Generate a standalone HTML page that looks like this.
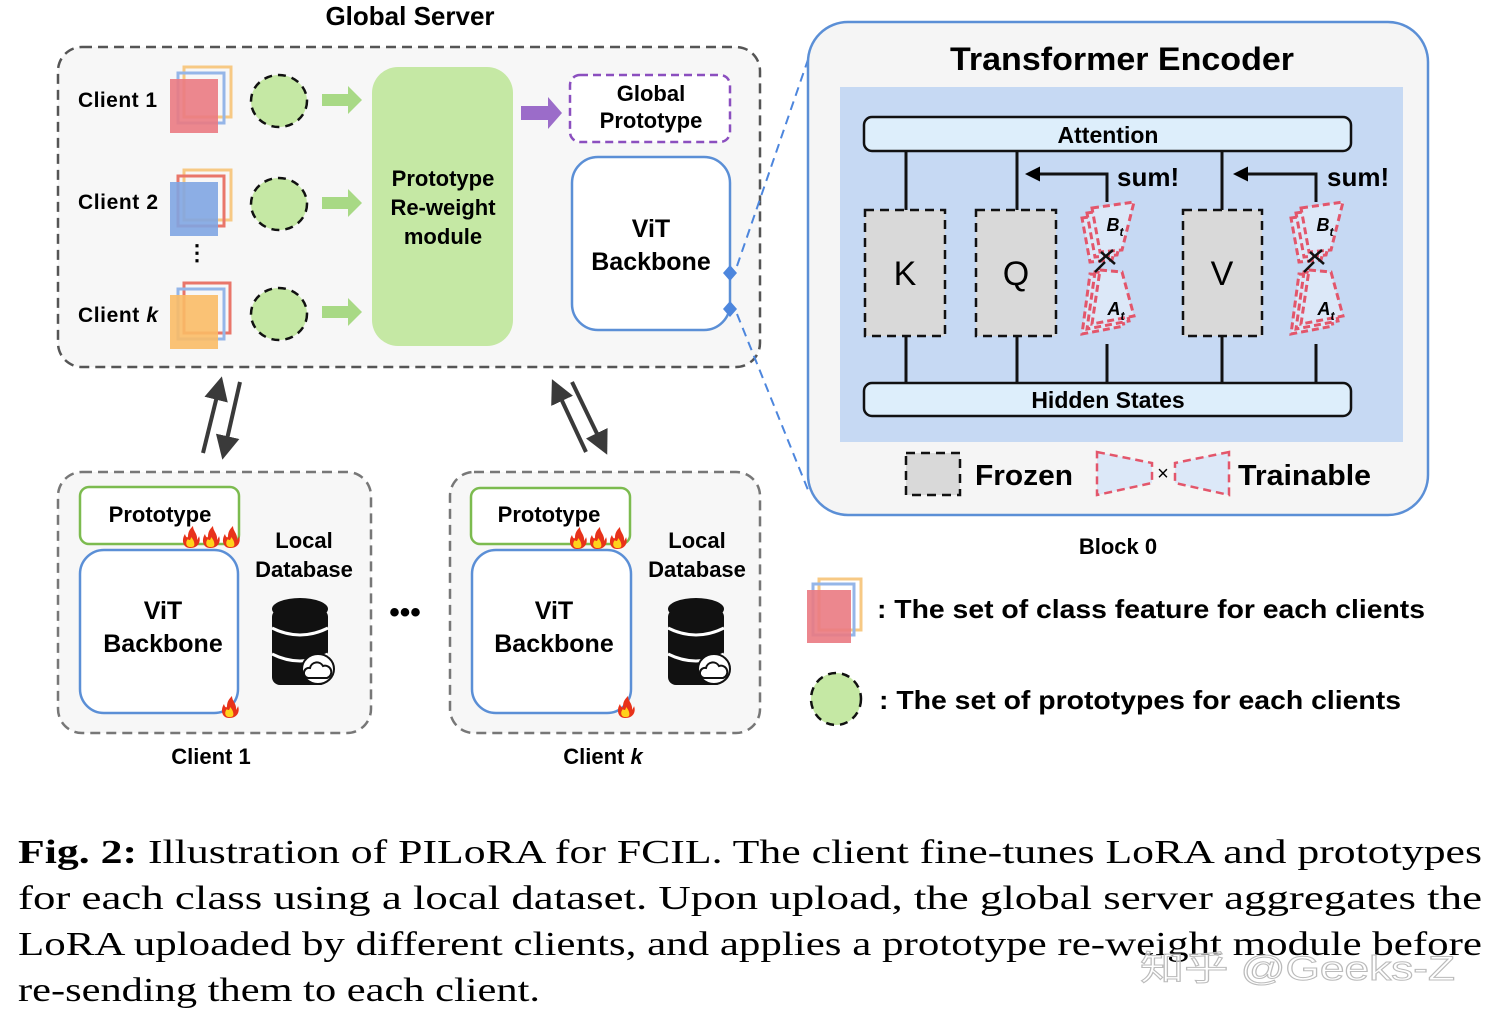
<!DOCTYPE html>
<html><head><meta charset="utf-8"><style>
html,body{margin:0;padding:0;background:#fff}
svg{display:block}
.b{font-family:"Liberation Sans",sans-serif;font-weight:bold}
.s{font-family:"Liberation Serif",serif;font-size:34px}
</style></head><body>
<svg width="1492" height="1023" viewBox="0 0 1492 1023" xmlns="http://www.w3.org/2000/svg">
<defs>
<marker id="ah" markerWidth="6" markerHeight="6" refX="3" refY="3" orient="auto" markerUnits="strokeWidth"><path d="M0,0 L6,3 L0,6 Z" fill="#3a3a3a"/></marker>
<marker id="ak" markerWidth="5" markerHeight="5" refX="4" refY="2.5" orient="auto" markerUnits="strokeWidth"><path d="M0,0 L5,2.5 L0,5 Z" fill="#000"/></marker>
<g id="flame"><path d="M0,0 C-7,0 -9,-8 -5,-14 C-4,-10 -2,-10 -2,-12 C-2,-17 1,-20 3,-22 C3,-17 8,-14 7,-8 C8,-10 9,-11 9,-12 C11,-7 9,0 0,0 Z" fill="#e8321a"/><path d="M0,-1 C-4,-1 -5,-6 -2,-9 C-1,-7 1,-8 1,-11 C4,-8 5,-4 4,-2 C3,-1 2,-1 0,-1 Z" fill="#ffd21c"/></g>
<g id="lora" stroke="#e3566b" stroke-width="3" stroke-dasharray="7,4" fill="#dce8f8">
<path d="M-30,16 L12,10 L0,58 L-22,60 Z"/><path d="M-25,11 L17,5 L5,53 L-17,55 Z"/><path d="M-20,6 L22,0 L10,48 L-12,50 Z"/>
<path d="M-22,72 L0,74 L12,124 L-30,132 Z"/><path d="M-17,70 L5,72 L17,119 L-25,127 Z"/><path d="M-12,68 L10,70 L22,114 L-20,122 Z"/>
</g>
</defs>

<text x="410" y="25" text-anchor="middle" class="b" font-size="26">Global Server</text>
<rect x="58" y="47" width="702" height="320" rx="24" fill="#f7f7f7" stroke="#555" stroke-width="2.5" stroke-dasharray="10,6"/>

<g class="b" font-size="21">
<text x="78" y="107" textLength="79">Client 1</text><text x="78" y="209" textLength="80">Client 2</text><text x="78" y="322" textLength="80">Client <tspan font-style="italic">k</tspan></text>
</g>
<text x="197" y="260" text-anchor="middle" class="b" font-size="22">⋮</text>

<g transform="translate(170,66)"><rect x="14" y="1" width="47" height="50" fill="none" stroke="#f7c984" stroke-width="3"/><rect x="8" y="7" width="46" height="50" fill="none" stroke="#95b6e8" stroke-width="3"/><rect x="0" y="13" width="48" height="54" fill="#ea7a82" opacity="0.9"/></g>
<g transform="translate(170,169)"><rect x="14" y="1" width="47" height="50" fill="none" stroke="#f7c984" stroke-width="3"/><rect x="8" y="7" width="46" height="50" fill="none" stroke="#e9766a" stroke-width="3"/><rect x="0" y="13" width="48" height="54" fill="#7fa5e2" opacity="0.9"/></g>
<g transform="translate(170,282)"><rect x="14" y="1" width="46" height="50" fill="none" stroke="#e9766a" stroke-width="3"/><rect x="8" y="7" width="46" height="50" fill="none" stroke="#95b6e8" stroke-width="3"/><rect x="0" y="13" width="48" height="54" fill="#fabb66" opacity="0.9"/></g>

<g fill="#c5e8a4" stroke="#111" stroke-width="2.5" stroke-dasharray="8,6">
<ellipse cx="279" cy="101" rx="28" ry="26"/><ellipse cx="279" cy="204" rx="28" ry="26"/><ellipse cx="279" cy="314" rx="28" ry="26"/>
</g>
<g fill="#a8d985">
<path d="M322,94 h26 v-8 l14,14 l-14,14 v-8 h-26 Z"/><path d="M322,197 h26 v-8 l14,14 l-14,14 v-8 h-26 Z"/><path d="M322,306 h26 v-8 l14,14 l-14,14 v-8 h-26 Z"/>
</g>
<rect x="372" y="67" width="141" height="279" rx="26" fill="#c5e8a4"/>
<g class="b" font-size="22" text-anchor="middle"><text x="443" y="186">Prototype</text><text x="443" y="215">Re-weight</text><text x="443" y="244">module</text></g>
<path d="M521,106 h27 v-9 l14,16 l-14,16 v-9 h-27 Z" fill="#9b6cc9"/>
<rect x="570" y="75" width="160" height="67" rx="10" fill="#fff" stroke="#8b4fbf" stroke-width="2.5" stroke-dasharray="8,5"/>
<g class="b" font-size="22" text-anchor="middle"><text x="651" y="101">Global</text><text x="651" y="128">Prototype</text></g>
<rect x="572" y="157" width="158" height="173" rx="26" fill="#fff" stroke="#5b8fd6" stroke-width="2.5"/>
<g class="b" font-size="25" text-anchor="middle"><text x="651" y="237">ViT</text><text x="651" y="270">Backbone</text></g>
<path d="M730,265 l7,8 l-7,8 l-7,-8 Z M730,301 l7,8 l-7,8 l-7,-8 Z" fill="#4d86dd"/>
<g stroke="#4d86dd" stroke-width="2" stroke-dasharray="9,6" fill="none"><path d="M737,266 L812,48"/><path d="M737,314 L808,490"/></g>

<rect x="808" y="22" width="620" height="493" rx="40" fill="#f5f5f5" stroke="#5b8fd6" stroke-width="2.5"/>
<text x="1122" y="70" text-anchor="middle" class="b" font-size="32" textLength="344" lengthAdjust="spacingAndGlyphs">Transformer Encoder</text>
<rect x="840" y="87" width="563" height="355" fill="#c6d9f3"/>
<g stroke="#111" stroke-width="3">
<line x1="906" y1="151" x2="906" y2="210"/><line x1="1017" y1="151" x2="1017" y2="210"/><line x1="1222" y1="151" x2="1222" y2="210"/>
<line x1="906" y1="336" x2="906" y2="383"/><line x1="1017" y1="336" x2="1017" y2="383"/><line x1="1222" y1="336" x2="1222" y2="383"/>
<line x1="1107" y1="344" x2="1107" y2="383"/><line x1="1316" y1="344" x2="1316" y2="383"/>
<polyline points="1107,202 1107,174 1028,174" fill="none" marker-end="url(#ak)"/>
<polyline points="1316,202 1316,174 1236,174" fill="none" marker-end="url(#ak)"/>
</g>
<rect x="864" y="117" width="487" height="34" rx="8" fill="#ddeefb" stroke="#111" stroke-width="2.5"/>
<rect x="864" y="383" width="487" height="33" rx="8" fill="#ddeefb" stroke="#111" stroke-width="2.5"/>
<g class="b" font-size="23" text-anchor="middle"><text x="1108" y="143">Attention</text><text x="1108" y="408">Hidden States</text></g>
<g class="b" font-size="26"><text x="1117" y="186">sum!</text><text x="1327" y="186">sum!</text></g>
<g fill="#d9d9d9" stroke="#111" stroke-width="2.5" stroke-dasharray="9,6">
<rect x="865" y="210" width="80" height="126"/><rect x="976" y="210" width="80" height="126"/><rect x="1183" y="210" width="79" height="126"/>
</g>
<g font-family="Liberation Sans,sans-serif" font-size="34" text-anchor="middle"><text x="905" y="285">K</text><text x="1016" y="285">Q</text><text x="1222" y="285">V</text></g>
<use href="#lora" x="1112" y="202"/><use href="#lora" x="1321" y="202"/>
<g class="b" font-size="18" font-style="italic" text-anchor="middle">
<text x="1115" y="231">B<tspan font-size="12" dy="5">t</tspan></text><text x="1116" y="315">A<tspan font-size="12" dy="5">t</tspan></text>
<text x="1325" y="231">B<tspan font-size="12" dy="5">t</tspan></text><text x="1326" y="315">A<tspan font-size="12" dy="5">t</tspan></text>
</g>
<g stroke="#111" stroke-width="2.5"><path d="M1099,262 l14,-12 M1101,252 l14,12 M1095,272 l10,-10"/><path d="M1308,262 l14,-12 M1310,252 l14,12 M1304,272 l10,-10"/></g>

<rect x="906" y="453" width="54" height="42" fill="#d9d9d9" stroke="#111" stroke-width="2.5" stroke-dasharray="9,6"/>
<text x="975" y="485" class="b" font-size="29" textLength="98" lengthAdjust="spacingAndGlyphs">Frozen</text>
<g stroke="#e3566b" stroke-width="2.5" stroke-dasharray="8,5" fill="#dce8f8"><path d="M1097,452 L1152,463 L1152,483 L1097,495 Z"/><path d="M1229,452 L1175,463 L1175,483 L1229,495 Z"/></g>
<text x="1163" y="480" text-anchor="middle" font-family="Liberation Sans,sans-serif" font-size="20">×</text>
<text x="1238" y="485" class="b" font-size="29" textLength="133" lengthAdjust="spacingAndGlyphs">Trainable</text>
<text x="1118" y="554" text-anchor="middle" class="b" font-size="22">Block 0</text>

<g transform="translate(807,578)"><rect x="12" y="1" width="42" height="51" fill="none" stroke="#f7c984" stroke-width="3"/><rect x="6" y="6" width="41" height="51" fill="none" stroke="#95b6e8" stroke-width="3"/><rect x="0" y="12" width="44" height="53" fill="#ea7a82" opacity="0.9"/></g>
<ellipse cx="836" cy="699" rx="25" ry="26" fill="#c5e8a4" stroke="#111" stroke-width="2.5" stroke-dasharray="8,6"/>
<g class="b" font-size="26"><text x="877" y="618" textLength="548" lengthAdjust="spacingAndGlyphs">:  The set of class feature for each clients</text><text x="879" y="709" textLength="522" lengthAdjust="spacingAndGlyphs">:  The set of prototypes for each clients</text></g>

<g stroke="#3a3a3a" stroke-width="4" marker-end="url(#ah)"><line x1="203" y1="453" x2="219" y2="388"/><line x1="240" y1="382" x2="225" y2="448"/><line x1="586" y1="452" x2="557" y2="390"/><line x1="572" y1="382" x2="602" y2="444"/></g>

<g fill="#f7f7f7" stroke="#777" stroke-width="2.5" stroke-dasharray="10,6"><rect x="58" y="472" width="313" height="261" rx="24"/><rect x="450" y="472" width="310" height="261" rx="24"/></g>
<g fill="#fff" stroke-width="2.5">
<rect x="80" y="487" width="159" height="57" rx="9" stroke="#7cbb4f"/><rect x="80" y="550" width="158" height="163" rx="24" stroke="#5b8fd6"/>
<rect x="471" y="488" width="159" height="56" rx="9" stroke="#7cbb4f"/><rect x="472" y="550" width="159" height="163" rx="24" stroke="#5b8fd6"/>
</g>
<g class="b" text-anchor="middle">
<text x="160" y="522" font-size="22">Prototype</text><text x="549" y="522" font-size="22">Prototype</text>
<text x="163" y="619" font-size="25">ViT</text><text x="163" y="652" font-size="25">Backbone</text>
<text x="554" y="619" font-size="25">ViT</text><text x="554" y="652" font-size="25">Backbone</text>
<text x="304" y="548" font-size="22">Local</text><text x="304" y="577" font-size="22">Database</text>
<text x="697" y="548" font-size="22">Local</text><text x="697" y="577" font-size="22">Database</text>
<text x="211" y="764" font-size="22">Client 1</text><text x="603" y="764" font-size="22">Client <tspan font-style="italic">k</tspan></text>
<text x="405" y="622" font-size="30">•••</text>
</g>
<g id="db1"><ellipse cx="300" cy="609" rx="28" ry="11" fill="#111"/><rect x="272" y="609" width="56" height="76" rx="8" fill="#111"/><g stroke="#fff" stroke-width="3" fill="none"><path d="M272,628 q28,14 56,0"/><path d="M272,654 q28,14 56,0"/></g><ellipse cx="318" cy="669" rx="16" ry="15" fill="#fff" stroke="#111" stroke-width="2"/><path d="M308,678 a5,5 0 0 1 2,-10 a7,7 0 0 1 13,-2 a5,5 0 0 1 4,12 Z" fill="#fff" stroke="#111" stroke-width="2"/></g>
<use href="#db1" x="396"/>
<g><use href="#flame" x="190" y="548"/><use href="#flame" x="210" y="548"/><use href="#flame" x="230" y="548"/><use href="#flame" x="229" y="718"/>
<use href="#flame" x="577" y="549"/><use href="#flame" x="597" y="549"/><use href="#flame" x="617" y="549"/><use href="#flame" x="625" y="718"/></g>

<g class="s">
<text x="18" y="863" textLength="1464" lengthAdjust="spacingAndGlyphs"><tspan font-weight="bold">Fig. 2:</tspan> Illustration of PILoRA for FCIL. The client fine-tunes LoRA and prototypes</text>
<text x="18" y="909" textLength="1464" lengthAdjust="spacingAndGlyphs">for each class using a local dataset. Upon upload, the global server aggregates the</text>
<text x="18" y="955" textLength="1464" lengthAdjust="spacingAndGlyphs">LoRA uploaded by different clients, and applies a prototype re-weight module before</text>
<text x="18" y="1001" textLength="522" lengthAdjust="spacingAndGlyphs">re-sending them to each client.</text>
</g>
<text x="1140" y="980" font-family="Liberation Sans,'Noto Sans CJK SC',sans-serif" font-size="34" fill="#fff" fill-opacity="0.6" stroke="#bbb" stroke-width="1" textLength="315" lengthAdjust="spacingAndGlyphs">知乎 @Geeks-Z</text>
</svg>
</body></html>
